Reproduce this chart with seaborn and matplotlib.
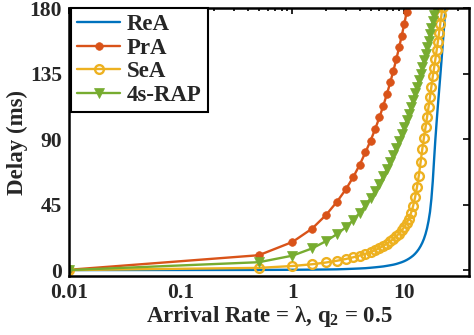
import matplotlib
matplotlib.use("Agg")
import matplotlib.pyplot as plt
import seaborn as sns
import pandas as pd
from matplotlib.ticker import FixedLocator, NullLocator

# ---------------- data ----------------
rea_x = [0.01, 0.5, 1.0, 1.5, 2.0, 2.5, 3.0, 3.5, 4.0, 4.5, 5.0, 5.5, 6.0, 6.5, 7.0, 7.5,
         8.0, 8.5, 9.0, 9.5, 10.0, 10.5, 11.0, 11.5, 12.0, 12.5, 13.0, 13.5, 14.0, 14.5,
         15.0, 15.5, 16.0, 16.5, 17.0, 17.5, 18.0, 18.5, 19.0, 19.5, 20.0, 20.5, 21.0,
         21.5, 22.0, 22.5, 23.0, 23.5]
rea_y = [0.1, 0.2, 0.3, 0.4, 0.5, 0.6, 0.8, 1.0, 1.2, 1.4, 1.7, 2.0, 2.3, 2.6, 3.0, 3.4,
         3.8, 4.3, 4.9, 5.5, 6.2, 7.0, 7.9, 8.9, 10.0, 11.3, 12.8, 14.5, 16.5, 18.8,
         21.5, 24.8, 28.8, 33.8, 40.0, 49.0, 61.0, 76.0, 90.0, 102.0, 113.0, 123.0, 133.0,
         143.0, 153.0, 163.0, 173.0, 183.0]

pra_x = [0.01, 0.5, 1.0, 1.5, 2.0, 2.5, 3.0, 3.5, 4.0, 4.5, 5.0, 5.5, 6.0, 6.5, 7.0,
         7.5, 8.0, 8.5, 9.0, 9.5, 10.0, 10.5, 11.0]
pra_y = [0.3, 10.3, 19.4, 28.6, 38.0, 47.0, 55.5, 64.0, 72.5, 81.0, 89.0, 97.0, 105.0,
         113.0, 121.0, 129.0, 137.0, 145.0, 153.0, 161.0, 169.0, 177.0, 185.0]

sea_x = [0.01, 0.5, 1.0, 1.5, 2.0, 2.5, 3.0, 3.5, 4.0, 4.5, 5.0, 5.5, 6.0, 6.5, 7.0, 7.5,
         8.0, 8.5, 9.0, 9.5, 10.0, 10.5, 11.0, 11.5, 12.0, 12.5, 13.0, 13.5, 14.0, 14.5,
         15.0, 15.5, 16.0, 16.5, 17.0, 17.5, 18.0, 18.5, 19.0, 19.5, 20.0, 20.5, 21.0,
         21.5, 22.0]
sea_y = [0.1, 1.6, 2.9, 4.1, 5.3, 6.5, 7.7, 8.9, 10.1, 11.3, 12.5, 13.8, 15.2, 16.7, 18.2,
         19.8, 21.5, 23.3, 25.2, 27.3, 29.6, 32.3, 35.5, 39.3, 44.0, 50.0, 57.0, 65.0, 74.0,
         83.0, 91.0, 98.0, 105.0, 112.0, 119.0, 126.0, 133.0, 139.0, 145.0, 151.0, 157.0,
         163.0, 169.0, 175.0, 181.0]

rap_x = [0.01, 0.5, 1.0, 1.5, 2.0, 2.5, 3.0, 3.5, 4.0, 4.5, 5.0, 5.5, 6.0, 6.5, 7.0, 7.5,
         8.0, 8.5, 9.0, 9.5, 10.0, 10.5, 11.0, 11.5, 12.0, 12.5, 13.0, 13.5, 14.0, 14.5,
         15.0, 15.5, 16.0, 16.5, 17.0, 17.5, 18.0, 18.5, 19.0, 19.5]
rap_y = [0.1, 5.5, 10.0, 15.0, 20.0, 24.8, 29.5, 34.5, 39.5, 44.5, 49.5, 54.5, 59.5, 64.5,
         69.5, 74.0, 79.0, 84.0, 89.0, 93.5, 98.0, 103.0, 107.5, 112.0, 117.0, 121.5, 126.0,
         130.5, 135.0, 139.5, 144.0, 148.5, 153.0, 157.5, 162.0, 166.5, 171.0, 175.5, 180.0,
         184.5]

series_names = ["ReA", "PrA", "SeA", "4s-RAP"]
y_ticks = [0, 45, 90, 135, 180]
x_ticks = [0.01, 0.1, 1, 10]
x_ticklabels = ["0.01", "0.1", "1", "10"]

# ---------------- style ----------------
sns.set_style("white")
plt.rcParams["font.family"] = ["Liberation Serif", "DejaVu Serif"]
plt.rcParams["font.weight"] = "bold"
plt.rcParams["mathtext.fontset"] = "custom"
plt.rcParams["mathtext.rm"] = "Liberation Serif:bold"
plt.rcParams["mathtext.it"] = "Liberation Serif:bold"
plt.rcParams["mathtext.bf"] = "Liberation Serif:bold"

fig = plt.figure(figsize=(4.74, 3.35), dpi=100)
ax = fig.add_axes([0.1456, 0.176, 0.8439, 0.800])

colors = {"ReA": "#0072BD", "PrA": "#D95319", "SeA": "#EDB120", "4s-RAP": "#77AC30"}

df_rea = pd.DataFrame({"x": rea_x, "y": rea_y})
df_pra = pd.DataFrame({"x": pra_x, "y": pra_y})
df_sea = pd.DataFrame({"x": sea_x, "y": sea_y})
df_rap = pd.DataFrame({"x": rap_x, "y": rap_y})

lw = 1.7
sns.lineplot(data=df_rea, x="x", y="y", ax=ax, color=colors["ReA"], lw=lw,
             label=series_names[0], sort=False, estimator=None)
sns.lineplot(data=df_pra, x="x", y="y", ax=ax, color=colors["PrA"], lw=lw,
             marker="o", markersize=5.5, markeredgewidth=0.5,
             markeredgecolor=colors["PrA"], label=series_names[1], sort=False,
             estimator=None)
sns.lineplot(data=df_sea, x="x", y="y", ax=ax, color=colors["SeA"], lw=lw,
             marker="o", markersize=6.3, markerfacecolor="none", markeredgewidth=1.7,
             markeredgecolor=colors["SeA"], label=series_names[2], sort=False,
             estimator=None)
sns.lineplot(data=df_rap, x="x", y="y", ax=ax, color=colors["4s-RAP"], lw=lw,
             marker="v", markersize=7.5, markeredgewidth=0.5,
             markeredgecolor=colors["4s-RAP"], label=series_names[3], sort=False,
             estimator=None)

ax.set_xscale("log")
ax.set_xlim(0.01, 38)
ax.set_ylim(-4, 180)
ax.xaxis.set_major_locator(FixedLocator(x_ticks))
ax.set_xticklabels(x_ticklabels)
ax.yaxis.set_major_locator(FixedLocator(y_ticks))
ax.yaxis.set_minor_locator(NullLocator())

for s in ax.spines.values():
    s.set_visible(True)
    s.set_color("black")
    s.set_linewidth(1.8)

ax.tick_params(which="both", direction="in", top=True, right=True, color="black",
               width=1.2)
ax.tick_params(which="major", length=4.5, labelsize=15.5, pad=5)
ax.tick_params(which="minor", length=2.5)
for lab in ax.get_xticklabels() + ax.get_yticklabels():
    lab.set_fontweight("bold")

ax.set_xlabel("Arrival Rate = λ, q$_{2}$ = 0.5", fontsize=16.5, fontweight="bold",
              labelpad=1)
ax.set_ylabel("Delay (ms)", fontsize=16.5, fontweight="bold", labelpad=1)

leg = ax.legend(loc="upper left", bbox_to_anchor=(0.005, 1.0), frameon=True,
                fancybox=False, framealpha=1, edgecolor="black", handlelength=1.9,
                handletextpad=0.3, labelspacing=0.12, borderpad=0.25,
                borderaxespad=0.0, prop={"family": "Liberation Serif", "weight": "bold",
                                         "size": 16.5})
leg.get_frame().set_linewidth(1.5)

fig.savefig("out.png", dpi=100)
